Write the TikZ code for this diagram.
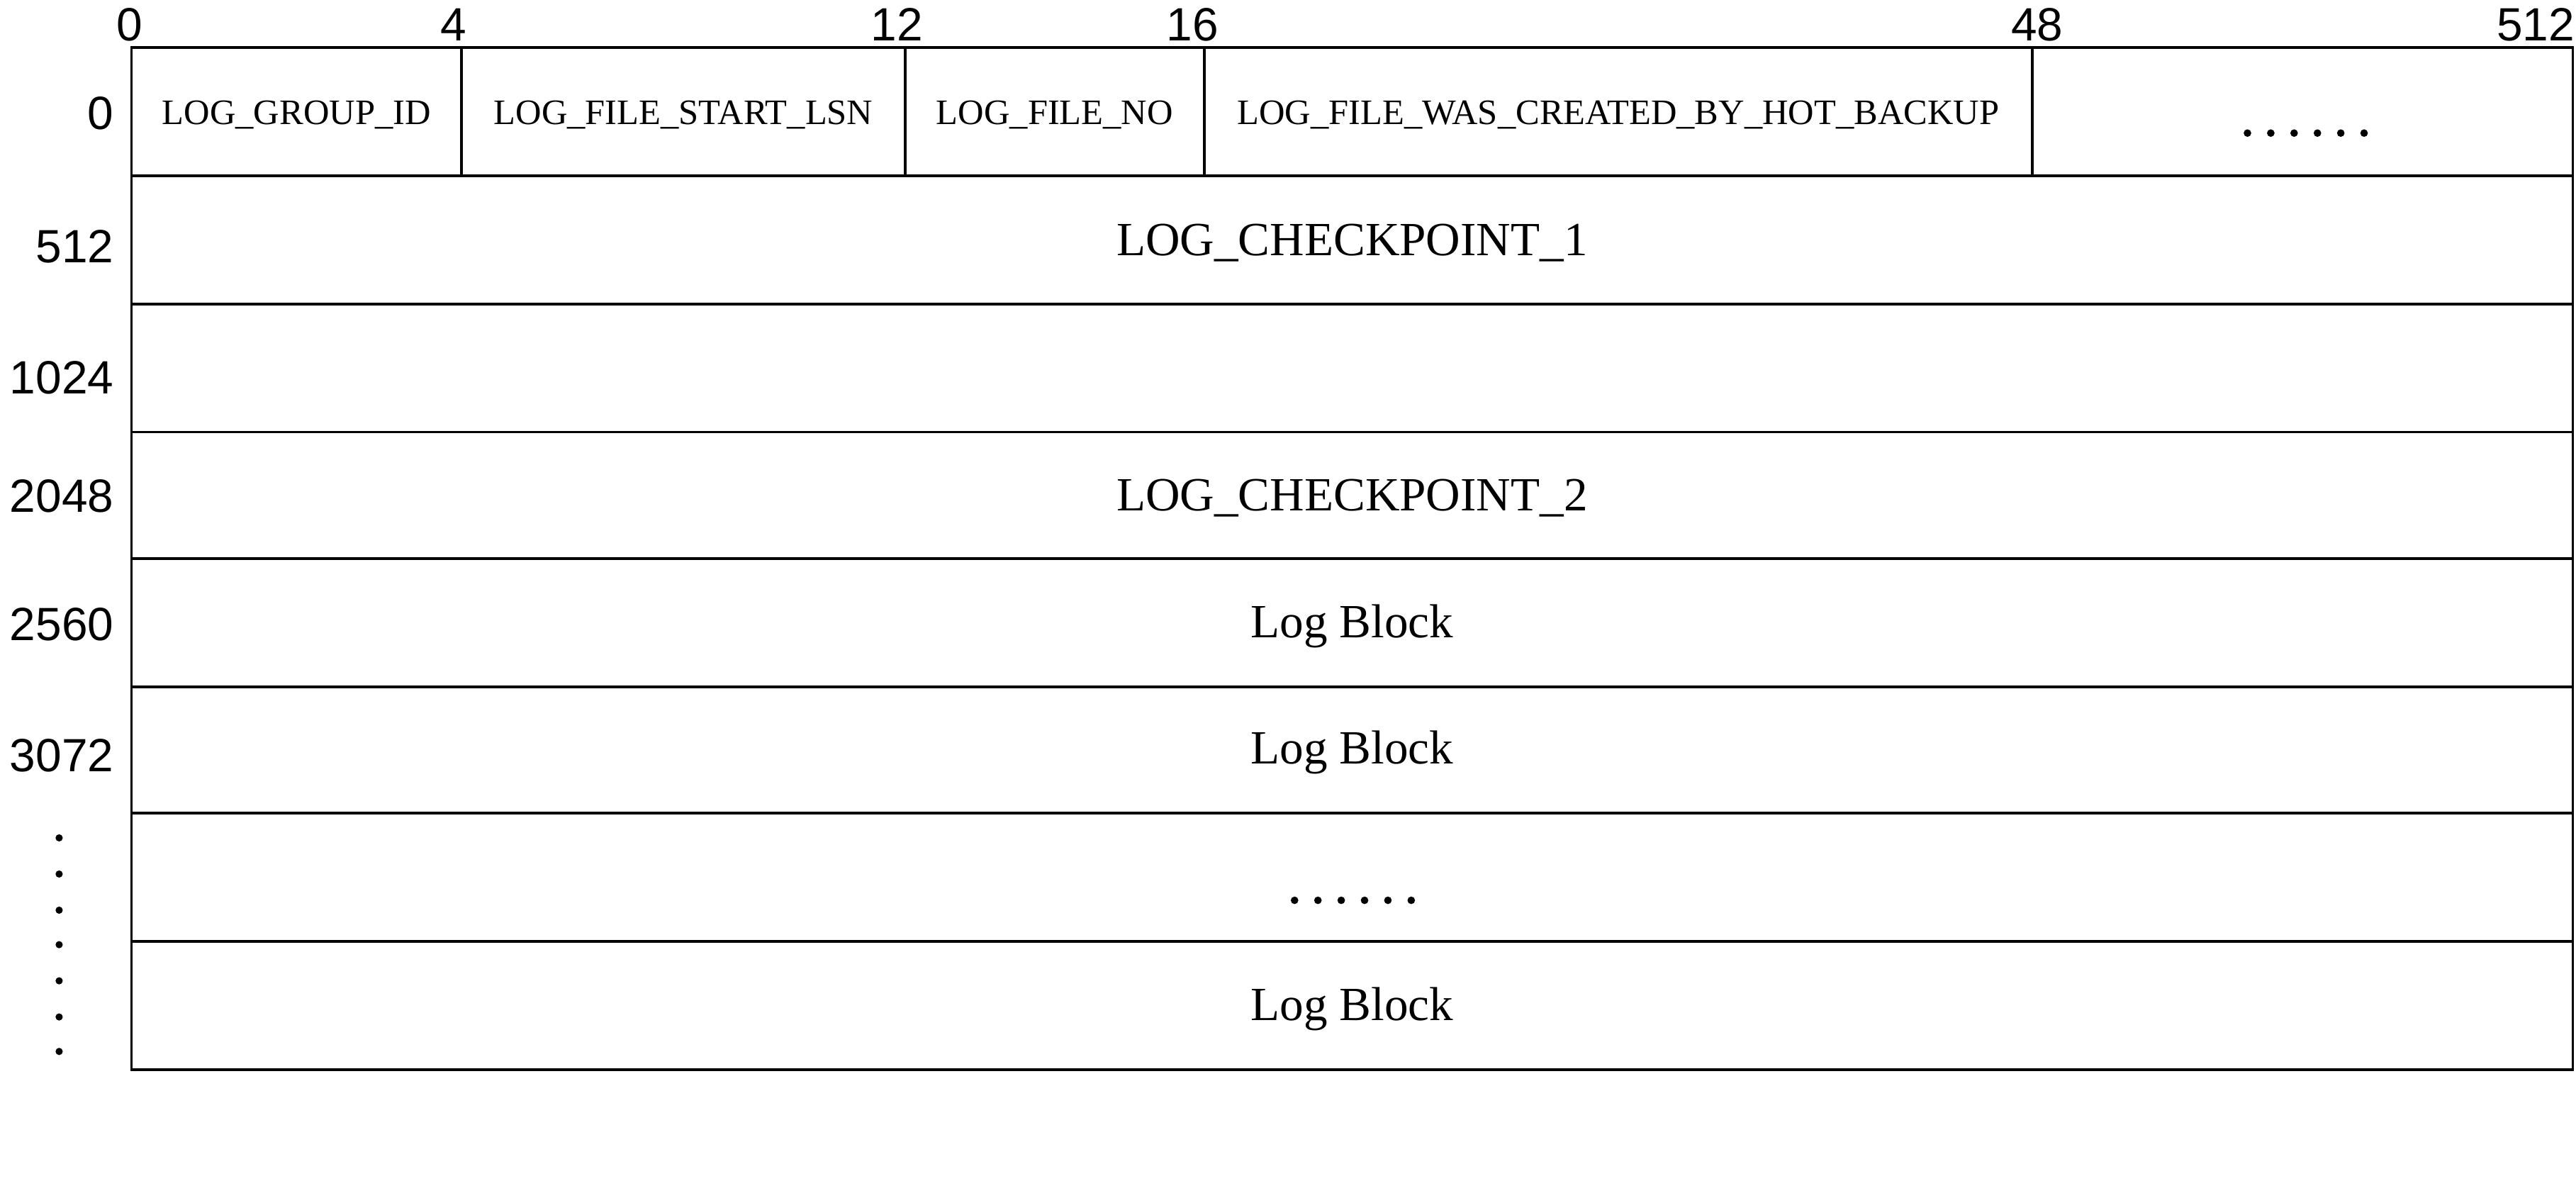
\documentclass[tikz,border=0pt]{standalone}
\usepackage{fontspec}
\setmainfont{Liberation Serif}
\newfontfamily\numfont{Liberation Sans}
\begin{document}
\begin{tikzpicture}[x=0.5pt,y=-0.5pt,line width=0.8pt,
  num/.style={font=\numfont\fontsize{14.2}{14}\selectfont,inner sep=0pt},
  small/.style={font=\fontsize{10.9}{12}\selectfont,inner sep=0pt},
  big/.style={font=\fontsize{14.5}{16}\selectfont,inner sep=0pt}]
\useasboundingbox (0,0) rectangle (1568,729);
\draw (80,29) rectangle (1566,651);
\foreach \y in {107,185,263,340,418,495,573} \draw (80,\y) -- (1566,\y);
\foreach \x in {281,551,733,1237} \draw (\x,29) -- (\x,107);
% top labels
\node[num] (t0) at (79,15) {0};
\node[num] (t4) at (276,15) {4};
\node[num] (t12) at (546,15) {12};
\node[num] (t16) at (726,15) {16};
\node[num] (t48) at (1240,15) {48};
\node[num,anchor=east] (t512) at (1568,15) {512};
% left labels
\node[num,anchor=east] (l0) at (70,69) {0};
\node[num,anchor=east] (l1) at (70,150) {512};
\node[num,anchor=east] (l2) at (70,230) {1024};
\node[num,anchor=east] (l3) at (70,302) {2048};
\node[num,anchor=east] (l4) at (70,380) {2560};
\node[num,anchor=east] (l5) at (70,460) {3072};
\foreach \y in {510,532,554,575,597,619,640} \fill (36,\y) circle (2.2);
% header cells
\node[small] (c1) at (180.5,70) {LOG\_GROUP\_ID};
\node[small] (c2) at (416,70) {LOG\_FILE\_START\_LSN};
\node[small] (c3) at (642,70) {LOG\_FILE\_NO};
\node[small] (c4) at (985,70) {LOG\_FILE\_WAS\_CREATED\_BY\_HOT\_BACKUP};
\foreach \i in {0,...,5} \fill (1368+\i*14.2,81) circle (2.3);
\coordinate (c5) at (1403,81);
% rows
\node[big] (r1) at (823,148) {LOG\_CHECKPOINT\_1};
\node[big] (r3) at (823,303) {LOG\_CHECKPOINT\_2};
\node[big] (r4) at (823,381) {Log Block};
\node[big] (r5) at (823,458) {Log Block};
\foreach \i in {0,...,5} \fill (788+\i*14.2,548) circle (2.3);
\node[big] (r7) at (823,614) {Log Block};
\end{tikzpicture}
\end{document}
